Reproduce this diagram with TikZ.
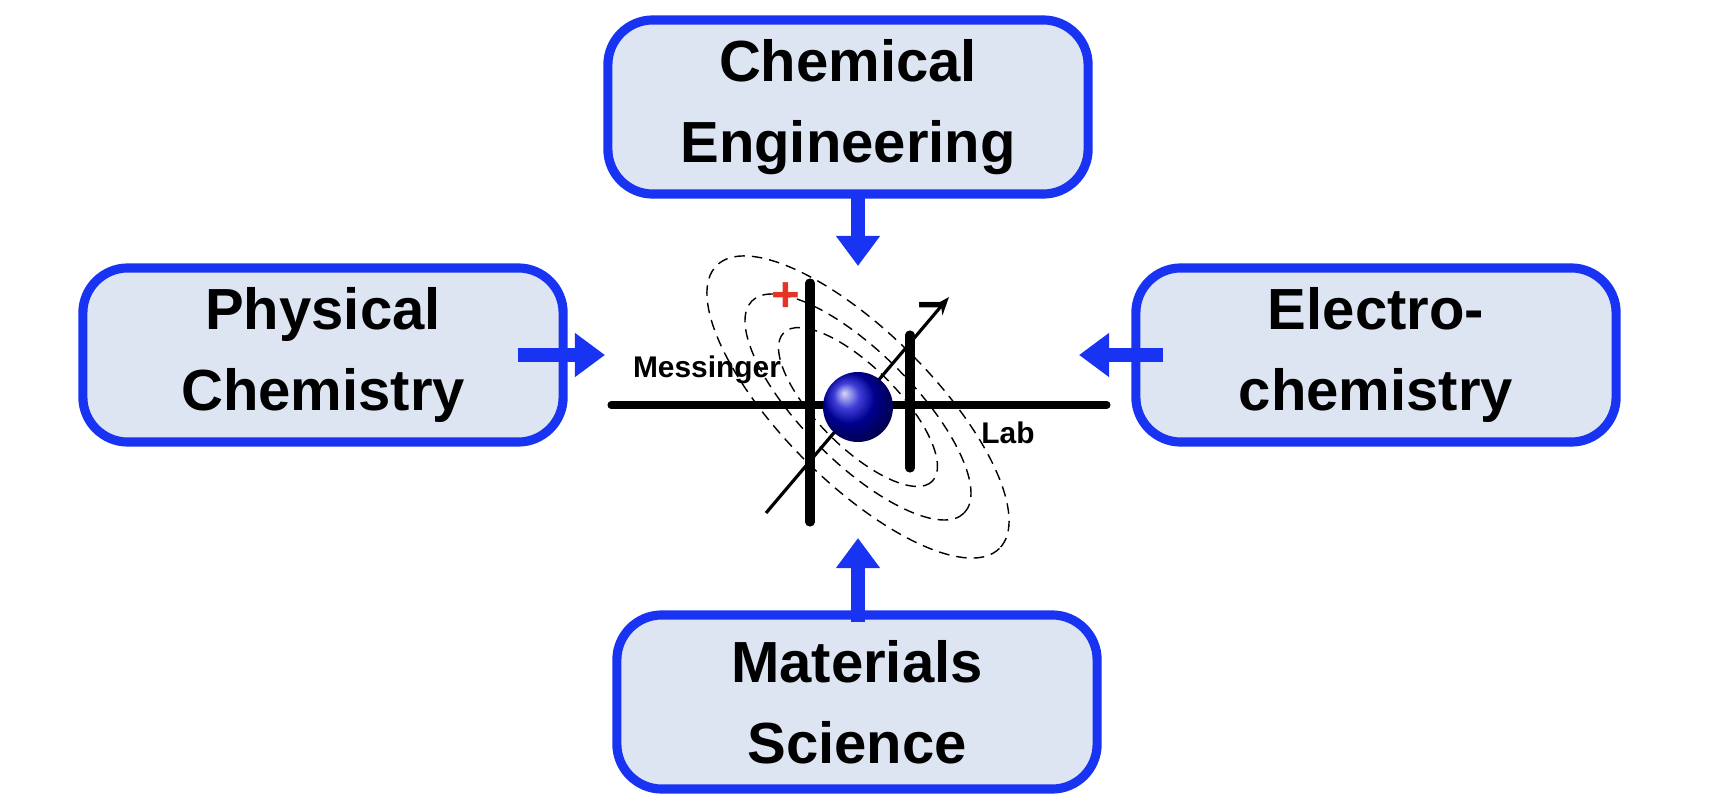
\documentclass[tikz,border=0pt]{standalone}
\usepackage{fontspec}
\setmainfont{Liberation Sans}
\usetikzlibrary{arrows.meta}
\definecolor{bleu}{rgb}{0.1 0.2 0.95}
\definecolor{fond}{rgb}{0.87 0.9 0.95}
\definecolor{rouge}{rgb}{0.9 0.2 0.15}

\begin{document}
\begin{tikzpicture}[x=0.01cm,y=-0.01cm]
	% STYLES
	\tikzstyle{boite} = [draw=bleu, fill=fond, line width=2.6pt, rounded corners=0.45cm,
		minimum width=4.8cm, minimum height=1.74cm, align=center,
		font=\fontsize{16.5}{23}\selectfont\bfseries]
	\tikzstyle{fleche} = [line width=3.7pt, draw=bleu, -{Triangle[width=0.42cm,length=0.3cm]}, shorten >=0pt]
	\tikzstyle{plaque} = [line width=2.6pt, line cap=round]
	\tikzstyle{champ} = [thin, densely dashed]
	\tikzstyle{etiquette} = [font=\fontsize{8.5}{10}\selectfont\bfseries]

	\useasboundingbox (0,0) rectangle (1732,812);

	% BOITES
	\node[boite] at (848, 107) (CE) {Chemical\\Engineering};
	\node[boite] at (323, 355) (PC) {Physical\\Chemistry};
	\node[boite] at (1376, 355) (EC) {Electro-\\chemistry};
	\node[boite] at (857, 702) (MS) {Materials\\Science};

	% CENTRE
	\coordinate (O) at (858, 407);
	\coordinate (hautC) at (858, 266);
	\coordinate (gaucheC) at (605, 355);
	\coordinate (droiteC) at (1079, 355);
	\coordinate (basC) at (858, 538);

	\path[fleche] (CE.south -| hautC) ++(0,-8) -- (hautC);
	\path[fleche] (PC.east) ++(-50,0) -- (gaucheC);
	\path[fleche] (EC.west) ++(32,0) -- (droiteC);
	\path[fleche] (MS.north -| basC) ++(0,12) -- (basC);

	% lignes de champ
	\foreach \a/\b in {200/75, 150/55, 105/40}
		\draw[champ, rotate around={-45:(O)}] (O) ellipse ({\a} and {\b});

	\draw[line width=2pt, line cap=round] (611, 405) -- (1107, 405);
	\draw[-{Stealth[length=0.18cm]}, line width=0.9pt] (766, 513) -- (949, 297);
	\draw[plaque] (810, 283) -- (810, 522);
	\draw[plaque] (910, 335) -- (910, 468);

	\shade[ball color=blue!80!black] (O) circle (35);

	\node[text=rouge, font=\fontsize{14}{14}\selectfont\bfseries] at (786, 297) (plus) {+};
	\node[font=\fontsize{14}{14}\selectfont\bfseries] at (932, 312) (moins) {\textminus};
	\node[etiquette] at (707, 370) (mess) {Messinger};
	\node[etiquette] at (1008, 433) (lab) {Lab};
\end{tikzpicture}
\end{document}
